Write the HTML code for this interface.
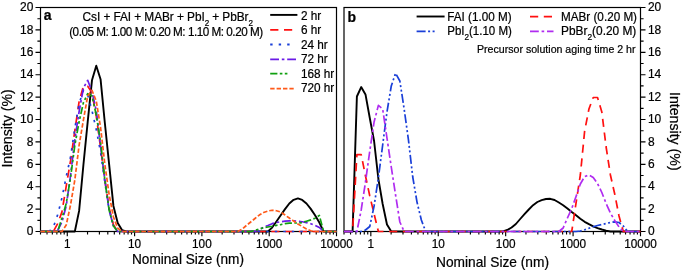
<!DOCTYPE html>
<html><head><meta charset="utf-8"><style>
html,body{margin:0;padding:0;background:#fff;}
svg{display:block;will-change:transform;}
text{font-family:"Liberation Sans",sans-serif;fill:#000;stroke:#000;stroke-width:0.22px;}
</style></head><body>
<svg width="682" height="272" viewBox="0 0 682 272">
<rect width="682" height="272" fill="#fff"/>
<rect x="40.5" y="7.5" width="296.0" height="224.0" fill="none" stroke="#000" stroke-width="1.2"/>
<path d="M40.50 231.5v3.1 M47.02 231.5v3.1 M52.35 231.5v3.1 M56.86 231.5v3.1 M60.76 231.5v3.1 M64.20 231.5v3.1 M67.28 231.5v4.7 M87.54 231.5v3.1 M99.40 231.5v3.1 M107.80 231.5v3.1 M114.33 231.5v3.1 M119.66 231.5v3.1 M124.16 231.5v3.1 M128.06 231.5v3.1 M131.51 231.5v3.1 M134.59 231.5v4.7 M154.85 231.5v3.1 M166.70 231.5v3.1 M175.11 231.5v3.1 M181.63 231.5v3.1 M186.96 231.5v3.1 M191.47 231.5v3.1 M195.37 231.5v3.1 M198.81 231.5v3.1 M201.89 231.5v4.7 M222.15 231.5v3.1 M234.00 231.5v3.1 M242.41 231.5v3.1 M248.94 231.5v3.1 M254.26 231.5v3.1 M258.77 231.5v3.1 M262.67 231.5v3.1 M266.12 231.5v3.1 M269.20 231.5v4.7 M289.46 231.5v3.1 M301.31 231.5v3.1 M309.72 231.5v3.1 M316.24 231.5v3.1 M321.57 231.5v3.1 M326.07 231.5v3.1 M329.98 231.5v3.1 M333.42 231.5v3.1 M336.50 231.5v4.7 M40.5 231.50h-5.0 M40.5 220.30h-3.1 M40.5 209.10h-5.0 M40.5 197.90h-3.1 M40.5 186.70h-5.0 M40.5 175.50h-3.1 M40.5 164.30h-5.0 M40.5 153.10h-3.1 M40.5 141.90h-5.0 M40.5 130.70h-3.1 M40.5 119.50h-5.0 M40.5 108.30h-3.1 M40.5 97.10h-5.0 M40.5 85.90h-3.1 M40.5 74.70h-5.0 M40.5 63.50h-3.1 M40.5 52.30h-5.0 M40.5 41.10h-3.1 M40.5 29.90h-5.0 M40.5 18.70h-3.1 M40.5 7.50h-5.0" stroke="#000" stroke-width="1.15" fill="none"/>
<rect x="344.0" y="7.5" width="296.5" height="224.0" fill="none" stroke="#000" stroke-width="1.2"/>
<path d="M344.00 231.5v3.1 M350.53 231.5v3.1 M355.87 231.5v3.1 M360.39 231.5v3.1 M364.29 231.5v3.1 M367.74 231.5v3.1 M370.83 231.5v4.7 M391.12 231.5v3.1 M402.99 231.5v3.1 M411.42 231.5v3.1 M417.95 231.5v3.1 M423.29 231.5v3.1 M427.80 231.5v3.1 M431.71 231.5v3.1 M435.16 231.5v3.1 M438.25 231.5v4.7 M458.54 231.5v3.1 M470.41 231.5v3.1 M478.84 231.5v3.1 M485.37 231.5v3.1 M490.71 231.5v3.1 M495.22 231.5v3.1 M499.13 231.5v3.1 M502.58 231.5v3.1 M505.66 231.5v4.7 M525.96 231.5v3.1 M537.83 231.5v3.1 M546.25 231.5v3.1 M552.79 231.5v3.1 M558.13 231.5v3.1 M562.64 231.5v3.1 M566.55 231.5v3.1 M570.00 231.5v3.1 M573.08 231.5v4.7 M593.38 231.5v3.1 M605.25 231.5v3.1 M613.67 231.5v3.1 M620.21 231.5v3.1 M625.54 231.5v3.1 M630.06 231.5v3.1 M633.97 231.5v3.1 M637.42 231.5v3.1 M640.50 231.5v4.7 M640.5 231.50h5.0 M640.5 220.30h3.1 M640.5 209.10h5.0 M640.5 197.90h3.1 M640.5 186.70h5.0 M640.5 175.50h3.1 M640.5 164.30h5.0 M640.5 153.10h3.1 M640.5 141.90h5.0 M640.5 130.70h3.1 M640.5 119.50h5.0 M640.5 108.30h3.1 M640.5 97.10h5.0 M640.5 85.90h3.1 M640.5 74.70h5.0 M640.5 63.50h3.1 M640.5 52.30h5.0 M640.5 41.10h3.1 M640.5 29.90h5.0 M640.5 18.70h3.1 M640.5 7.50h5.0" stroke="#000" stroke-width="1.15" fill="none"/>
<polyline points="40.50,231.50 44.79,231.50 49.08,231.50 53.37,231.50 57.66,231.50 61.95,231.50 66.24,231.50 70.53,231.50 74.82,231.50 79.11,210.89 83.40,164.97 87.69,121.96 91.98,80.30 96.27,65.74 100.56,79.18 104.85,122.97 109.14,164.30 113.43,205.96 117.72,222.99 122.01,230.04 126.30,231.50 130.59,231.50 134.88,231.50 139.17,231.50 143.46,231.50 147.75,231.50 152.04,231.50 156.33,231.50 160.62,231.50 164.91,231.50 169.20,231.50 173.49,231.50 177.78,231.50 182.07,231.50 186.36,231.50 190.64,231.50 194.93,231.50 199.22,231.50 203.51,231.50 207.80,231.50 212.09,231.50 216.38,231.50 220.67,231.50 224.96,231.50 229.25,231.50 233.54,231.50 237.83,231.50 242.12,231.50 246.41,231.50 250.70,231.50 254.99,231.50 259.28,231.50 263.57,231.50 267.86,231.50 272.15,227.58 276.44,221.42 280.73,215.26 285.02,209.10 289.31,203.50 293.60,199.80 297.89,198.46 302.18,199.92 306.47,203.50 310.76,208.88 315.05,215.26 319.34,222.54 323.63,231.50 327.92,231.50 332.21,231.50 336.50,231.50" fill="none" stroke="#000" stroke-width="1.9" stroke-linejoin="round"/>
<polyline points="40.50,231.50 44.79,231.50 49.08,231.50 53.37,231.50 57.66,223.66 61.95,211.90 66.24,186.03 70.53,160.94 74.82,130.70 79.11,101.58 83.40,86.35 87.69,86.35 91.98,92.62 96.27,116.14 100.56,147.50 104.85,179.98 109.14,207.98 113.43,224.78 117.72,231.50 122.01,231.50 126.30,231.50 130.59,231.50 134.88,231.50 139.17,231.50 143.46,231.50 147.75,231.50 152.04,231.50 156.33,231.50 160.62,231.50 164.91,231.50 169.20,231.50 173.49,231.50 177.78,231.50 182.07,231.50 186.36,231.50 190.64,231.50 194.93,231.50 199.22,231.50 203.51,231.50 207.80,231.50 212.09,231.50 216.38,231.50 220.67,231.50 224.96,231.50 229.25,231.50 233.54,231.50 237.83,231.50 242.12,231.50 246.41,231.50 250.70,231.50 254.99,231.50 259.28,231.50 263.57,231.50 267.86,231.50 272.15,231.50 276.44,231.50 280.73,231.50 285.02,231.50 289.31,231.50 293.60,231.50 297.89,231.50 302.18,231.50 306.47,231.50 310.76,231.50 315.05,231.50 319.34,231.50 323.63,231.50 327.92,231.50 332.21,231.50 336.50,231.50" fill="none" stroke="#ff1010" stroke-width="1.7" stroke-dasharray="8.2,5.6" stroke-linejoin="round"/>
<polyline points="40.50,231.50 44.79,231.50 49.08,231.50 53.37,227.02 57.66,214.70 61.95,197.90 66.24,176.62 70.53,157.02 74.82,128.46 79.11,103.82 83.40,90.38 87.69,94.86 91.98,110.54 96.27,129.58 100.56,151.98 104.85,182.22 109.14,210.22 113.43,225.90 117.72,231.50 122.01,231.50 126.30,231.50 130.59,231.50 134.88,231.50 139.17,231.50 143.46,231.50 147.75,231.50 152.04,231.50 156.33,231.50 160.62,231.50 164.91,231.50 169.20,231.50 173.49,231.50 177.78,231.50 182.07,231.50 186.36,231.50 190.64,231.50 194.93,231.50 199.22,231.50 203.51,231.50 207.80,231.50 212.09,231.50 216.38,231.50 220.67,231.50 224.96,231.50 229.25,231.50 233.54,231.50 237.83,231.50 242.12,231.50 246.41,231.50 250.70,231.50 254.99,231.50 259.28,231.50 263.57,231.50 267.86,231.50 272.15,231.50 276.44,231.50 280.73,231.50 285.02,231.50 289.31,231.50 293.60,231.50 297.89,231.50 302.18,231.50 306.47,231.50 310.76,231.50 315.05,231.50 319.34,231.50 323.63,231.50 327.92,231.50 332.21,231.50 336.50,231.50" fill="none" stroke="#1a3fd8" stroke-width="1.7" stroke-dasharray="2.4,6.1" stroke-linejoin="round"/>
<polyline points="40.50,231.50 44.79,231.50 49.08,231.50 53.37,231.50 57.66,230.38 61.95,221.98 66.24,205.74 70.53,175.50 74.82,139.66 79.11,111.66 83.40,88.14 87.69,80.30 91.98,91.50 96.27,110.54 100.56,146.38 104.85,179.98 109.14,210.22 113.43,225.90 117.72,231.50 122.01,231.50 126.30,231.50 130.59,231.50 134.88,231.50 139.17,231.50 143.46,231.50 147.75,231.50 152.04,231.50 156.33,231.50 160.62,231.50 164.91,231.50 169.20,231.50 173.49,231.50 177.78,231.50 182.07,231.50 186.36,231.50 190.64,231.50 194.93,231.50 199.22,231.50 203.51,231.50 207.80,231.50 212.09,231.50 216.38,231.50 220.67,231.50 224.96,231.50 229.25,231.50 233.54,231.50 237.83,231.50 242.12,231.50 246.41,231.50 250.70,231.50 254.99,231.50 259.28,230.04 263.57,227.02 267.86,225.45 272.15,223.66 276.44,222.54 280.73,221.76 285.02,221.20 289.31,220.97 293.60,220.97 297.89,221.20 302.18,221.76 306.47,222.65 310.76,223.77 315.05,225.45 319.34,227.47 323.63,231.50 327.92,231.50 332.21,231.50 336.50,231.50" fill="none" stroke="#6a1be6" stroke-width="1.7" stroke-dasharray="8.8,2.8,2.6,2.8" stroke-linejoin="round"/>
<polyline points="40.50,231.50 44.79,231.50 49.08,231.50 53.37,231.50 57.66,231.50 61.95,218.06 66.24,203.50 70.53,177.74 74.82,145.26 79.11,121.74 83.40,102.70 87.69,93.74 91.98,95.98 96.27,115.02 100.56,141.90 104.85,179.98 109.14,210.22 113.43,225.90 117.72,231.50 122.01,231.50 126.30,231.50 130.59,231.50 134.88,231.50 139.17,231.50 143.46,231.50 147.75,231.50 152.04,231.50 156.33,231.50 160.62,231.50 164.91,231.50 169.20,231.50 173.49,231.50 177.78,231.50 182.07,231.50 186.36,231.50 190.64,231.50 194.93,231.50 199.22,231.50 203.51,231.50 207.80,231.50 212.09,231.50 216.38,231.50 220.67,231.50 224.96,231.50 229.25,231.50 233.54,231.50 237.83,231.50 242.12,231.50 246.41,231.50 250.70,231.50 254.99,230.49 259.28,229.04 263.57,227.80 267.86,227.02 272.15,226.24 276.44,225.34 280.73,224.56 285.02,223.66 289.31,223.21 293.60,222.99 297.89,222.99 302.18,222.54 306.47,221.20 310.76,219.85 315.05,218.28 319.34,215.48 323.63,231.50 327.92,231.50 332.21,231.50 336.50,231.50" fill="none" stroke="#10a010" stroke-width="1.7" stroke-dasharray="7.2,2.4,2.6,2.4,2.6,2.4" stroke-linejoin="round"/>
<polyline points="40.50,231.50 44.79,231.50 49.08,231.50 53.37,231.50 57.66,231.50 61.95,231.50 66.24,225.00 70.53,204.96 74.82,179.98 79.11,145.26 83.40,120.06 87.69,95.98 91.98,90.38 96.27,101.02 100.56,127.34 104.85,164.30 109.14,194.54 113.43,216.94 117.72,228.14 122.01,231.50 126.30,231.50 130.59,231.50 134.88,231.50 139.17,231.50 143.46,231.50 147.75,231.50 152.04,231.50 156.33,231.50 160.62,231.50 164.91,231.50 169.20,231.50 173.49,231.50 177.78,231.50 182.07,231.50 186.36,231.50 190.64,231.50 194.93,231.50 199.22,231.50 203.51,231.50 207.80,231.50 212.09,231.50 216.38,231.50 220.67,231.50 224.96,231.50 229.25,231.50 233.54,231.50 237.83,231.50 242.12,229.26 246.41,225.45 250.70,221.98 254.99,218.51 259.28,215.04 263.57,212.46 267.86,211.00 272.15,210.22 276.44,210.78 280.73,212.01 285.02,215.04 289.31,218.06 293.60,220.97 297.89,224.00 302.18,226.46 306.47,229.04 310.76,230.83 315.05,231.50 319.34,231.50 323.63,231.50 327.92,231.50 332.21,231.50 336.50,231.50" fill="none" stroke="#ff5a1a" stroke-width="1.7" stroke-dasharray="4.4,2" stroke-linejoin="round"/>
<polyline points="344.00,231.50 348.30,231.50 352.59,231.50 356.89,96.50 361.19,87.10 365.49,94.40 369.78,118.00 374.08,141.00 378.38,179.00 382.67,204.00 386.97,224.50 391.27,231.50 395.57,231.50 399.86,231.50 404.16,231.50 408.46,231.50 412.75,231.50 417.05,231.50 421.35,231.50 425.64,231.50 429.94,231.50 434.24,231.50 438.54,231.50 442.83,231.50 447.13,231.50 451.43,231.50 455.72,231.50 460.02,231.50 464.32,231.50 468.62,231.50 472.91,231.50 477.21,231.50 481.51,231.50 485.80,231.50 490.10,231.50 494.40,231.50 498.70,231.50 502.99,231.50 507.29,230.00 511.59,227.50 515.88,224.00 520.18,219.00 524.48,214.20 528.78,209.50 533.07,205.20 537.37,202.00 541.67,200.10 545.96,199.00 550.26,198.80 554.56,200.00 558.86,202.50 563.15,205.20 567.45,208.40 571.75,212.00 576.04,215.30 580.34,218.80 584.64,221.80 588.93,224.20 593.23,226.30 597.53,228.10 601.83,229.50 606.12,230.60 610.42,231.50 614.72,231.50 619.01,231.50 623.31,231.50 627.61,231.50 631.91,231.50 636.20,231.50 640.50,231.50" fill="none" stroke="#000" stroke-width="1.9" stroke-linejoin="round"/>
<polyline points="344.00,231.50 348.30,231.50 352.59,231.50 356.89,154.60 361.19,154.60 365.49,176.00 369.78,196.00 374.08,214.00 378.38,231.50 382.67,231.50 386.97,231.50 391.27,231.50 395.57,231.50 399.86,231.50 404.16,231.50 408.46,231.50 412.75,231.50 417.05,231.50 421.35,231.50 425.64,231.50 429.94,231.50 434.24,231.50 438.54,231.50 442.83,231.50 447.13,231.50 451.43,231.50 455.72,231.50 460.02,231.50 464.32,231.50 468.62,231.50 472.91,231.50 477.21,231.50 481.51,231.50 485.80,231.50 490.10,231.50 494.40,231.50 498.70,231.50 502.99,231.50 507.29,231.50 511.59,231.50 515.88,231.50 520.18,231.50 524.48,231.50 528.78,231.50 533.07,231.50 537.37,231.50 541.67,231.50 545.96,231.50 550.26,231.50 554.56,231.50 558.86,231.50 563.15,231.50 567.45,231.50 571.75,231.50 576.04,203.00 580.34,175.00 584.64,131.00 588.93,109.00 593.23,97.50 597.53,97.50 601.83,112.00 606.12,147.00 610.42,175.00 614.72,194.00 619.01,216.00 623.31,231.50 627.61,231.50 631.91,231.50 636.20,231.50 640.50,231.50" fill="none" stroke="#ff1010" stroke-width="1.7" stroke-dasharray="8.2,5.6" stroke-linejoin="round"/>
<polyline points="344.00,231.50 348.30,231.50 352.59,231.50 356.89,231.50 361.19,231.50 365.49,230.00 369.78,226.50 374.08,206.00 378.38,178.00 382.67,145.00 386.97,112.00 391.27,86.00 395.57,73.20 399.86,81.00 404.16,109.00 408.46,140.00 412.75,177.00 417.05,202.30 421.35,220.00 425.64,231.50 429.94,231.50 434.24,231.50 438.54,231.50 442.83,231.50 447.13,231.50 451.43,231.50 455.72,231.50 460.02,231.50 464.32,231.50 468.62,231.50 472.91,231.50 477.21,231.50 481.51,231.50 485.80,231.50 490.10,231.50 494.40,231.50 498.70,231.50 502.99,231.50 507.29,231.50 511.59,231.50 515.88,231.50 520.18,231.50 524.48,231.50 528.78,231.50 533.07,231.50 537.37,231.50 541.67,231.50 545.96,231.50 550.26,231.50 554.56,231.50 558.86,231.50 563.15,231.50 567.45,231.50 571.75,231.50 576.04,231.50 580.34,231.00 584.64,229.80 588.93,228.30 593.23,226.80 597.53,225.50 601.83,224.50 606.12,223.50 610.42,222.50 614.72,221.80 619.01,222.50 623.31,226.00 627.61,231.50 631.91,231.50 636.20,231.50 640.50,231.50" fill="none" stroke="#1a3fd8" stroke-width="1.7" stroke-dasharray="9,2.5,2,2.5,2,2.5" stroke-linejoin="round"/>
<polyline points="344.00,231.50 348.30,231.50 352.59,231.50 356.89,231.50 361.19,210.00 365.49,182.00 369.78,151.00 374.08,122.00 378.38,105.40 382.67,109.00 386.97,138.00 391.27,167.00 395.57,195.00 399.86,222.00 404.16,231.50 408.46,231.50 412.75,231.50 417.05,231.50 421.35,231.50 425.64,231.50 429.94,231.50 434.24,231.50 438.54,231.50 442.83,231.50 447.13,231.50 451.43,231.50 455.72,231.50 460.02,231.50 464.32,231.50 468.62,231.50 472.91,231.50 477.21,231.50 481.51,231.50 485.80,231.50 490.10,231.50 494.40,231.50 498.70,231.50 502.99,231.50 507.29,231.50 511.59,231.50 515.88,231.50 520.18,231.50 524.48,231.50 528.78,231.50 533.07,231.50 537.37,231.50 541.67,231.50 545.96,231.50 550.26,231.50 554.56,231.50 558.86,231.50 563.15,228.00 567.45,218.00 571.75,208.50 576.04,196.50 580.34,184.00 584.64,176.50 588.93,175.00 593.23,177.50 597.53,183.50 601.83,192.50 606.12,203.50 610.42,213.00 614.72,220.50 619.01,227.00 623.31,231.50 627.61,231.50 631.91,231.50 636.20,231.50 640.50,231.50" fill="none" stroke="#b02cf0" stroke-width="1.7" stroke-dasharray="8.8,2.8,2.6,2.8" stroke-linejoin="round"/>
<text transform="translate(33.3,235.1) scale(0.935,1)" font-size="12.8" text-anchor="end" font-weight="normal">0</text>
<text transform="translate(33.3,212.7) scale(0.935,1)" font-size="12.8" text-anchor="end" font-weight="normal">2</text>
<text transform="translate(33.3,190.3) scale(0.935,1)" font-size="12.8" text-anchor="end" font-weight="normal">4</text>
<text transform="translate(33.3,167.9) scale(0.935,1)" font-size="12.8" text-anchor="end" font-weight="normal">6</text>
<text transform="translate(33.3,145.5) scale(0.935,1)" font-size="12.8" text-anchor="end" font-weight="normal">8</text>
<text transform="translate(33.3,123.1) scale(0.935,1)" font-size="12.8" text-anchor="end" font-weight="normal">10</text>
<text transform="translate(33.3,100.7) scale(0.935,1)" font-size="12.8" text-anchor="end" font-weight="normal">12</text>
<text transform="translate(33.3,78.3) scale(0.935,1)" font-size="12.8" text-anchor="end" font-weight="normal">14</text>
<text transform="translate(33.3,55.9) scale(0.935,1)" font-size="12.8" text-anchor="end" font-weight="normal">16</text>
<text transform="translate(33.3,33.5) scale(0.935,1)" font-size="12.8" text-anchor="end" font-weight="normal">18</text>
<text transform="translate(33.3,11.1) scale(0.935,1)" font-size="12.8" text-anchor="end" font-weight="normal">20</text>
<text transform="translate(647.9,235.1) scale(0.935,1)" font-size="12.8" text-anchor="start" font-weight="normal">0</text>
<text transform="translate(647.9,212.7) scale(0.935,1)" font-size="12.8" text-anchor="start" font-weight="normal">2</text>
<text transform="translate(647.9,190.3) scale(0.935,1)" font-size="12.8" text-anchor="start" font-weight="normal">4</text>
<text transform="translate(647.9,167.9) scale(0.935,1)" font-size="12.8" text-anchor="start" font-weight="normal">6</text>
<text transform="translate(647.9,145.5) scale(0.935,1)" font-size="12.8" text-anchor="start" font-weight="normal">8</text>
<text transform="translate(647.9,123.1) scale(0.935,1)" font-size="12.8" text-anchor="start" font-weight="normal">10</text>
<text transform="translate(647.9,100.7) scale(0.935,1)" font-size="12.8" text-anchor="start" font-weight="normal">12</text>
<text transform="translate(647.9,78.3) scale(0.935,1)" font-size="12.8" text-anchor="start" font-weight="normal">14</text>
<text transform="translate(647.9,55.9) scale(0.935,1)" font-size="12.8" text-anchor="start" font-weight="normal">16</text>
<text transform="translate(647.9,33.5) scale(0.935,1)" font-size="12.8" text-anchor="start" font-weight="normal">18</text>
<text transform="translate(647.9,11.1) scale(0.935,1)" font-size="12.8" text-anchor="start" font-weight="normal">20</text>
<text transform="translate(67.28,248.3) scale(0.935,1)" font-size="12.6" text-anchor="middle" font-weight="normal">1</text>
<text transform="translate(134.59,248.3) scale(0.935,1)" font-size="12.6" text-anchor="middle" font-weight="normal">10</text>
<text transform="translate(201.89,248.3) scale(0.935,1)" font-size="12.6" text-anchor="middle" font-weight="normal">100</text>
<text transform="translate(269.20,248.3) scale(0.935,1)" font-size="12.6" text-anchor="middle" font-weight="normal">1000</text>
<text transform="translate(336.50,248.3) scale(0.935,1)" font-size="12.6" text-anchor="middle" font-weight="normal">10000</text>
<text transform="translate(370.83,248.3) scale(0.935,1)" font-size="12.6" text-anchor="middle" font-weight="normal">1</text>
<text transform="translate(438.25,248.3) scale(0.935,1)" font-size="12.6" text-anchor="middle" font-weight="normal">10</text>
<text transform="translate(505.66,248.3) scale(0.935,1)" font-size="12.6" text-anchor="middle" font-weight="normal">100</text>
<text transform="translate(573.08,248.3) scale(0.935,1)" font-size="12.6" text-anchor="middle" font-weight="normal">1000</text>
<text transform="translate(640.50,248.3) scale(0.935,1)" font-size="12.6" text-anchor="middle" font-weight="normal">10000</text>
<text x="188" y="263.9" font-size="14.5" text-anchor="middle" font-weight="normal" textLength="112" lengthAdjust="spacingAndGlyphs">Nominal Size (nm)</text>
<text x="492.5" y="266.8" font-size="14.5" text-anchor="middle" font-weight="normal" textLength="113" lengthAdjust="spacingAndGlyphs">Nominal Size (nm)</text>
<text transform="translate(11.7,128.5) rotate(-90)" font-size="14.5" text-anchor="middle" textLength="78.2" lengthAdjust="spacingAndGlyphs">Intensity (%)</text>
<text transform="translate(669.5,131.3) rotate(90)" font-size="14.5" text-anchor="middle" textLength="78.7" lengthAdjust="spacingAndGlyphs">Intensity (%)</text>
<text x="43.8" y="19.8" font-size="14" text-anchor="start" font-weight="bold">a</text>
<text x="347.6" y="21.5" font-size="14" text-anchor="start" font-weight="bold">b</text>
<text transform="translate(82.6,21.4) scale(0.95,1)" font-size="12.5" letter-spacing="-0.08">CsI + FAI + MABr + PbI<tspan font-size="8.5" dy="4.3">2</tspan><tspan dy="-4.3"> + PbBr</tspan><tspan font-size="8.5" dy="4.3">2</tspan></text>
<text transform="translate(69.2,36.3) scale(0.93,1)" font-size="12.6" text-anchor="start" font-weight="normal" letter-spacing="-0.52">(0.05 M: 1.00 M: 0.20 M: 1.10 M: 0.20 M)</text>
<line x1="270.2" y1="14.9" x2="297.4" y2="14.9" stroke="#000" stroke-width="1.9"/>
<text transform="translate(300.9,19.7) scale(0.935,1)" font-size="12.6" text-anchor="start" font-weight="normal">2 hr</text>
<line x1="270.2" y1="29.9" x2="292.2" y2="29.9" stroke="#ff1010" stroke-width="1.8" stroke-dasharray="8.2,5.6"/>
<text transform="translate(300.9,34.15) scale(0.935,1)" font-size="12.6" text-anchor="start" font-weight="normal">6 hr</text>
<line x1="270.2" y1="44.5" x2="289.7" y2="44.5" stroke="#1a3fd8" stroke-width="1.8" stroke-dasharray="2.4,6.1"/>
<text transform="translate(300.9,48.6) scale(0.935,1)" font-size="12.6" text-anchor="start" font-weight="normal">24 hr</text>
<line x1="270.2" y1="59.4" x2="297.2" y2="59.4" stroke="#6a1be6" stroke-width="1.8" stroke-dasharray="8.8,2.8,2.6,2.8"/>
<text transform="translate(300.9,63.05) scale(0.935,1)" font-size="12.6" text-anchor="start" font-weight="normal">72 hr</text>
<line x1="270.2" y1="73.6" x2="288.4" y2="73.6" stroke="#10a010" stroke-width="1.8" stroke-dasharray="7.2,2.4,2.6,2.4,2.6,2.4"/>
<text transform="translate(300.9,77.5) scale(0.935,1)" font-size="12.6" text-anchor="start" font-weight="normal">168 hr</text>
<line x1="270.2" y1="88.7" x2="293.7" y2="88.7" stroke="#ff5a1a" stroke-width="1.8" stroke-dasharray="4.4,2"/>
<text transform="translate(300.9,91.95) scale(0.935,1)" font-size="12.6" text-anchor="start" font-weight="normal">720 hr</text>
<line x1="416.6" y1="16.5" x2="444.6" y2="16.5" stroke="#000" stroke-width="1.9"/>
<text transform="translate(447.2,20.5) scale(0.975,1)" font-size="12">FAI (1.00 M)</text>
<line x1="416.6" y1="31.4" x2="434.8" y2="31.4" stroke="#1a3fd8" stroke-width="1.8" stroke-dasharray="9,2.5,2,2.5,2,2.5"/>
<text transform="translate(447.2,35.4) scale(0.96,1)" font-size="12">PbI<tspan font-size="8.5" dy="4.6">2</tspan><tspan dy="-4.6">(1.10 M)</tspan></text>
<line x1="530" y1="16.6" x2="552.2" y2="16.6" stroke="#ff1010" stroke-width="1.8" stroke-dasharray="8.2,5.6"/>
<text transform="translate(561,20.6) scale(0.975,1)" font-size="12">MABr (0.20 M)</text>
<line x1="530" y1="31.3" x2="553.5" y2="31.3" stroke="#b02cf0" stroke-width="1.8" stroke-dasharray="8.8,2.8,2.6,2.8"/>
<text transform="translate(561,35.3) scale(0.99,1)" font-size="12">PbBr<tspan font-size="8.5" dy="4.6">2</tspan><tspan dy="-4.6">(0.20 M)</tspan></text>
<text x="477" y="53" font-size="11.5" text-anchor="start" font-weight="normal" textLength="158.5" lengthAdjust="spacingAndGlyphs">Precursor solution aging time 2 hr</text>
</svg>
</body></html>
